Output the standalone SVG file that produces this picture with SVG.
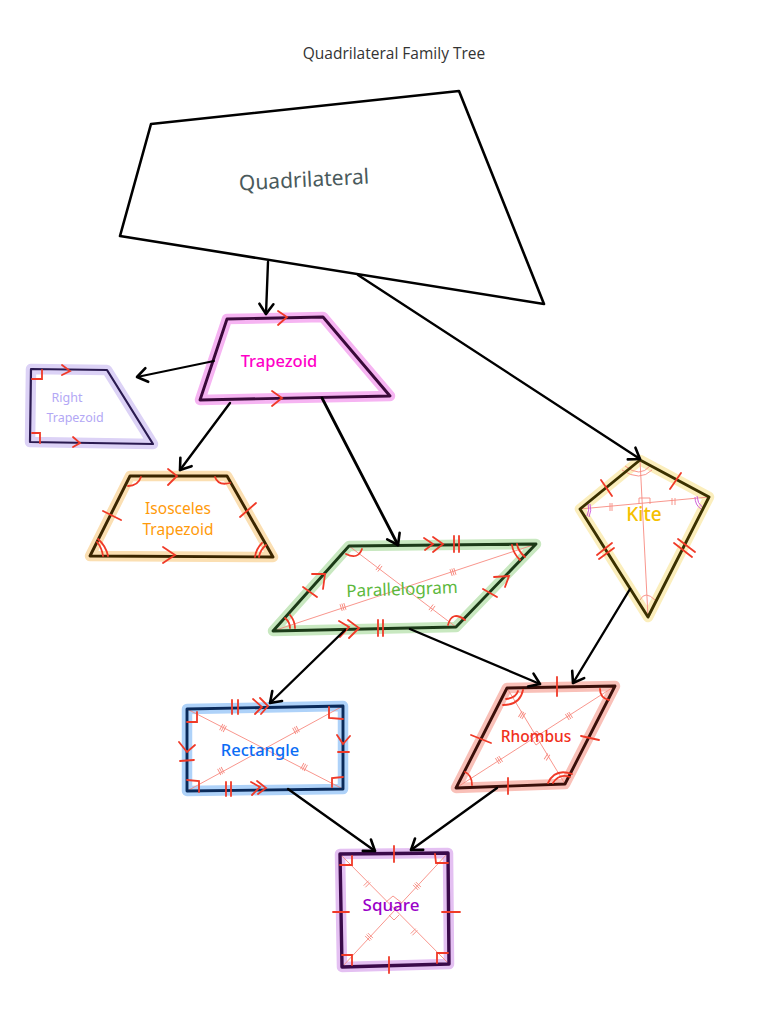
<svg xmlns="http://www.w3.org/2000/svg" xmlns:xlink="http://www.w3.org/1999/xlink" width="768" height="1024" viewBox="0 0 768 1024">
<style>
text{font-family:"Noto Sans","Liberation Sans",sans-serif;text-anchor:middle}
.title{font-family:"Open Sans","Liberation Sans",sans-serif;font-size:15.5px;fill:#333}
.hl{fill:none;stroke-width:10.5;stroke-linejoin:round}
.ol{fill:none;stroke-width:2.9;stroke-linejoin:round;stroke-linecap:round}
.mk{fill:none;stroke:#f03a28;stroke-width:1.8;stroke-linecap:round;stroke-linejoin:miter}
.dg{fill:none;stroke:#f78a80;stroke-width:.9}
.dg2{fill:none;stroke:#d060d8;stroke-width:1}
.cn{fill:none;stroke:#000;stroke-width:2.4;stroke-linecap:round}
.hd{fill:none;stroke:#000;stroke-width:2.6;stroke-linecap:round;stroke-linejoin:round}
</style>
<defs>
<marker id="ah" markerUnits="userSpaceOnUse" markerWidth="28" markerHeight="28" refX="14" refY="14" orient="auto"><path class="hd" d="M4 7L14 14L4 21"/></marker>
<g id="t3"><path class="dg" d="M-2 -3.5V3.5M0 -3.5V3.5M2 -3.5V3.5"/></g>
<g id="t2"><path class="dg" d="M-1.2 -3.5V3.5M1.2 -3.5V3.5"/></g>
</defs>
<text class="title" x="394" y="59">Quadrilateral Family Tree</text>
<g id="quadrilateral">
<path class="ol" stroke="#000" style="stroke-width:2.6" d="M151 124L459 91L544 304L120 236Z"/>
<text x="304" y="187" font-size="21" fill="#4a5a5c" transform="rotate(-3 304 181)">Quadrilateral</text>
</g>
<g id="trapezoid">
<path class="hl" stroke="#f6b4f2" d="M227 319L323 317L390 396L200 400Z"/>
<path class="ol" stroke="#3a0a3a" d="M227 319L323 317L390 396L200 400Z"/>
<path class="mk" d="M278 311L287 317L278 325M272 391L282 398L272 406"/>
<text x="279" y="367" font-size="16.5" font-weight="500" fill="#ff00c8">Trapezoid</text>
</g>
<g id="right-trapezoid">
<path class="hl" stroke="#dcd2f6" d="M31 369L107 370L153 444L30 442Z"/>
<path class="ol" stroke="#2a1a50" style="stroke-width:2.2" d="M31 369L107 370L153 444L30 442Z"/>
<path class="mk" d="M62 365L70 371L62 375M73 437L80 443L73 447M32 379H42V370M32 433H40V443"/>
<text font-size="12.5" fill="#b3a8f5"><tspan x="67" y="402">Right</tspan><tspan x="75" y="422">Trapezoid</tspan></text>
</g>
<g id="isosceles-trapezoid">
<path class="hl" stroke="#fbdfb2" d="M130 476L227 476L273 557L90 556Z"/>
<path class="ol" stroke="#3a2500" d="M130 476L227 476L273 557L90 556Z"/>
<path class="mk" d="M168 469L177 476L168 485M163 547L175 555L163 563M103 511L121 520M240 517L256 503M128 486Q138 486 141 477M215 477Q218 486 230 483M97 542Q102 548 103 556M98 539Q106 546 108 556M255 557Q256 549 262 543M259 557Q260 550 266 545"/>
<text x="178" y="514" font-size="15.5" fill="#ff9a0a">Isosceles</text>
<text x="178" y="535" font-size="15.5" fill="#ff9a0a">Trapezoid</text>
</g>
<g id="parallelogram">
<path class="hl" stroke="#c8e8c0" d="M349 546L536 544L456 627L273 631Z"/>
<path class="dg" d="M349 546L456 627M273 631L536 544"/>
<path class="ol" stroke="#1c3a18" d="M349 546L536 544L456 627L273 631Z"/>
<path class="mk" d="M424 538L433 544L425 550M433 537L443 544L433 552M454 536V552M459 536V552M339 621L349 627L340 637M348 620L359 628L349 638M378 620V636M383 620V636M303 587L317 597M312 574H325L323 589M483 589L497 597M494 577L509 576L505 587M346 554Q358 560 362 549M448 625Q452 610 465 620M285 618Q290 622 290 628M290 615Q295 621 295 628M512 545Q513 553 520 560M517 544Q518 551 525 557"/>
<use xlink:href="#t2" href="#t2" transform="translate(379 568) rotate(37)"/>
<use xlink:href="#t2" href="#t2" transform="translate(432 608) rotate(37)"/>
<use xlink:href="#t3" href="#t3" transform="translate(453 572) rotate(-18)"/>
<use xlink:href="#t3" href="#t3" transform="translate(343 607) rotate(-18)"/>
<text x="402" y="595" font-size="17" fill="#5cb83c" transform="rotate(-2 402 589)">Parallelogram</text>
</g>
<g id="kite">
<path class="hl" stroke="#fbeebc" d="M640 460L709 497L648 617L580 509Z"/>
<path class="dg" d="M640 460L648 617M580 509L709 497M639 504V498H650V504M622 470Q640 482 652 470M625 466Q640 478 650 466M640 600Q645 590 655 600M610 503V511M612 503V511M672 498V505M675 498V505"/>
<path class="dg2" d="M590 504Q592 510 589 517M588 504Q590 510 587 516M695 497Q695 505 701 509M697 496Q697 503 703 508"/>
<path class="ol" stroke="#3a3000" d="M640 460L709 497L648 617L580 509Z"/>
<path class="mk" d="M601 480L612 496M681 473L670 489M597 555L612 543M599 559L614 548M674 543L692 557M678 539L695 552"/>
<text x="644" y="521" font-size="19" font-weight="500" fill="#f5c000">Kite</text>
</g>
<g id="rectangle">
<path class="hl" stroke="#aed2f9" d="M187 709L343 706L343 789L187 791Z"/>
<path class="dg" d="M187 709L343 789M187 791L343 706"/>
<path class="ol" stroke="#0a2a5a" d="M187 709L343 706L343 789L187 791Z"/>
<path class="mk" d="M232 700V714M238 700V714M253 699L262 707L255 714M260 698L268 706L261 714M226 782V796M231 782V796M251 782L260 787L252 795M257 781L266 788L258 794M179 742L187 752L195 745M180 761L194 760M337 735L343 744L350 736M338 752H349M187 722H197V712M329 707V718L343 719M187 780L199 781V792M332 787V778L343 777"/>
<use xlink:href="#t3" href="#t3" transform="translate(223 728) rotate(28)"/>
<use xlink:href="#t3" href="#t3" transform="translate(296 730) rotate(-28)"/>
<use xlink:href="#t3" href="#t3" transform="translate(221 771) rotate(-28)"/>
<use xlink:href="#t3" href="#t3" transform="translate(304 767) rotate(28)"/>
<text x="260" y="756" font-size="16.5" font-weight="500" fill="#0a6cf5">Rectangle</text>
</g>
<g id="rhombus">
<path class="hl" stroke="#f9c0b8" d="M507 688L615 686L565 784L456 788Z"/>
<path class="dg" d="M507 688L565 784M456 788L615 686M530 736L537 731L543 740L536 745Z"/>
<path class="ol" stroke="#3a0f0a" d="M507 688L615 686L565 784L456 788Z"/>
<path class="mk" d="M557 677V696M508 778V794M471 735L491 743M581 736L599 740M503 705Q520 705 523 690M506 699Q516 698 518 691M600 689Q600 698 609 700M465 772Q472 775 472 785M548 783Q555 768 572 774M553 783Q559 773 570 777"/>
<use xlink:href="#t3" href="#t3" transform="translate(522 715) rotate(32)"/>
<use xlink:href="#t2" href="#t2" transform="translate(547 757) rotate(32)"/>
<use xlink:href="#t3" href="#t3" transform="translate(569 716) rotate(-33)"/>
<use xlink:href="#t3" href="#t3" transform="translate(499 760) rotate(-33)"/>
<text x="536" y="742" font-size="15.5" font-weight="500" fill="#f03020">Rhombus</text>
</g>
<g id="square">
<path class="hl" stroke="#e4c0f2" d="M340 854L448 853L449 964L342 967Z"/>
<path class="dg" d="M340 854L449 964M342 967L448 853M386 902L393 896L402 903M389 915L394 920L399 915"/>
<path class="ol" stroke="#3a0a4a" style="stroke-width:3.4" d="M340 854L448 853L449 964L342 967Z"/>
<path class="mk" d="M394 846V862M389 957V973M333 912H349M442 912H460M340 865H352V856M435 854L436 863H448M342 955H352V965M437 963V953H448"/>
<use xlink:href="#t2" href="#t2" transform="translate(367 884) rotate(45)"/>
<use xlink:href="#t3" href="#t3" transform="translate(417 886) rotate(-45)"/>
<use xlink:href="#t3" href="#t3" transform="translate(369 937) rotate(-45)"/>
<use xlink:href="#t2" href="#t2" transform="translate(414 932) rotate(45)"/>
<text x="391" y="911" font-size="17" font-weight="500" fill="#9a00c8">Square</text>
</g>
<g id="connectors">
<path class="cn" marker-end="url(#ah)" d="M268 262L266 314"/>
<path class="cn" style="stroke-width:1.8" marker-end="url(#ah)" d="M214 361L137 377"/>
<path class="cn" marker-end="url(#ah)" d="M230 403L180 470"/>
<path class="cn" style="stroke-width:2.8" marker-end="url(#ah)" d="M322 398L398 545"/>
<path class="cn" marker-end="url(#ah)" d="M358 275L640 459"/>
<path class="cn" marker-end="url(#ah)" d="M630 589L573 683"/>
<path class="cn" marker-end="url(#ah)" d="M345 630L270 703"/>
<path class="cn" marker-end="url(#ah)" d="M410 629L540 684"/>
<path class="cn" marker-end="url(#ah)" d="M288 789L375 851"/>
<path class="cn" marker-end="url(#ah)" d="M497 788L411 850"/>
</g>
</svg>
